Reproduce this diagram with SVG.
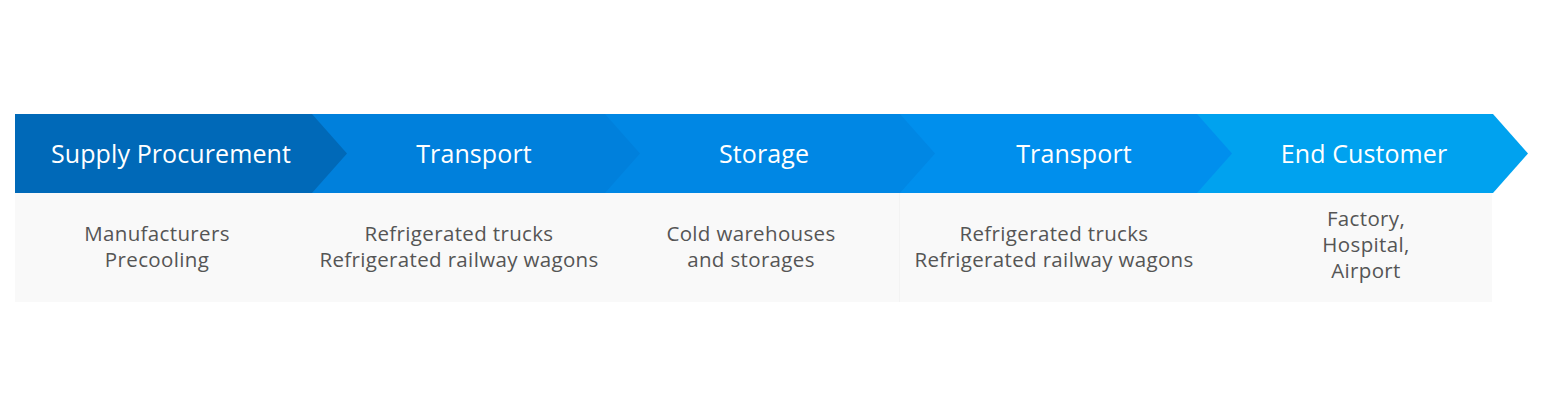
<svg xmlns="http://www.w3.org/2000/svg" width="1541" height="402" viewBox="0 0 1541 402">
<style>
.h{font-family:"Open Sans","Noto Sans",sans-serif;font-size:25px;letter-spacing:0.1px;fill:#ffffff;text-anchor:middle}
.d{font-family:"Open Sans","Noto Sans",sans-serif;font-size:20.5px;letter-spacing:0.35px;fill:#555555;text-anchor:middle}
</style>
<rect width="1541" height="402" fill="#ffffff"/>
<g id="panel">
<rect x="15" y="193" width="1477" height="109" fill="#f9f9f9"/>
<line x1="899.5" y1="193" x2="899.5" y2="302" stroke="#f3f3f3" stroke-width="1"/>
</g>
<g id="connectors"></g>
<g id="step5">
<polygon points="1197,114 1493,114 1528,153.5 1493,193 1197,193" fill="#00a2ef"/>
<text class="h" x="1364" y="163">End Customer</text>
<text class="d" x="1366" y="226">Factory,</text>
<text class="d" x="1366" y="252">Hospital,</text>
<text class="d" x="1366" y="278">Airport</text>
</g>
<g id="step4">
<polygon points="900,114 1197,114 1232,153.5 1197,193 900,193" fill="#008fed"/>
<text class="h" x="1074" y="163">Transport</text>
<text class="d" x="1054" y="241">Refrigerated trucks</text>
<text class="d" x="1054" y="267">Refrigerated railway wagons</text>
</g>
<g id="step3">
<polygon points="605,114 900,114 935,153.5 900,193 605,193" fill="#0087e4"/>
<text class="h" x="764" y="163">Storage</text>
<text class="d" x="751" y="241">Cold warehouses</text>
<text class="d" x="751" y="267">and storages</text>
</g>
<g id="step2">
<polygon points="312,114 605,114 640,153.5 605,193 312,193" fill="#0080dc"/>
<text class="h" x="474" y="163">Transport</text>
<text class="d" x="459" y="241">Refrigerated trucks</text>
<text class="d" x="459" y="267">Refrigerated railway wagons</text>
</g>
<g id="step1">
<polygon points="15,114 312,114 347,153.5 312,193 15,193" fill="#0069b8"/>
<text class="h" x="171" y="163">Supply Procurement</text>
<text class="d" x="157" y="241">Manufacturers</text>
<text class="d" x="157" y="267">Precooling</text>
</g>
</svg>
